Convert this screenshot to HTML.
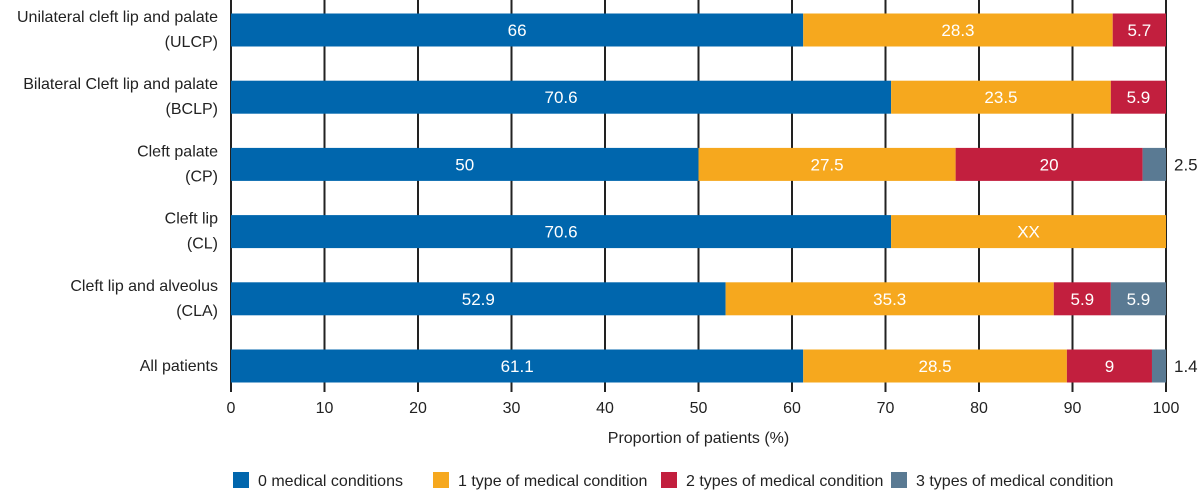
<!DOCTYPE html>
<html><head><meta charset="utf-8"><style>
body{margin:0;background:#fff;}
svg text{font-family:"Liberation Sans Narrow","Liberation Sans",sans-serif;}
</style></head><body>
<svg id="chart" width="1200" height="491" xmlns="http://www.w3.org/2000/svg"></svg>
<script>
const categories = [["Unilateral cleft lip and palate","(ULCP)"],["Bilateral Cleft lip and palate","(BCLP)"],["Cleft palate","(CP)"],["Cleft lip","(CL)"],["Cleft lip and alveolus","(CLA)"],["All patients"]];
const series0 = [61.2, 70.6, 50, 70.6, 52.9, 61.2];
const series1 = [33.1, 23.5, 27.5, 29.4, 35.1, 28.2];
const series2 = [5.7, 5.9, 20, 0, 6.1, 9.1];
const series3 = [0, 0, 2.5, 0, 5.9, 1.5];
const labels0 = ["66","70.6","50","70.6","52.9","61.1"];
const labels1 = ["28.3","23.5","27.5","XX","35.3","28.5"];
const labels2 = ["5.7","5.9","20","","5.9","9"];
const labels3 = ["","","2.5","","5.9","1.4"];
const xTicks = [0,10,20,30,40,50,60,70,80,90,100];
const seriesNames = ["0 medical conditions","1 type of medical condition","2 types of medical condition","3 types of medical condition"];
const colors = ["#0066ad","#f6a81e","#c21f3e","#5a7a93"];

const svg = document.getElementById('chart');
const NS = "http://www.w3.org/2000/svg";
const x0 = 231, x1 = 1166;
const xs = v => x0 + (x1 - x0) * v / 100;
const yc = i => 30 + i * 67.2;
const barH = 33;
function mk(tag, attrs, parent){const e=document.createElementNS(NS,tag);for(const k in attrs)e.setAttribute(k,attrs[k]);(parent||svg).appendChild(e);return e;}

xTicks.forEach(t=>{
  const l = mk('line',{x1:xs(t),x2:xs(t),y1:0,y2:392,stroke:'#222','stroke-width':2});
  
  
  const tx = mk('text',{x:xs(t),y:413,'text-anchor':'middle','font-size':16,fill:'#222'});
  tx.textContent = t;
  
  
});
const xt = mk('text',{x:xs(50),y:443,'text-anchor':'middle','font-size':16,fill:'#222'});
xt.textContent = "Proportion of patients (%)";



const allSeries = [series0,series1,series2,series3];
const allLabels = [labels0,labels1,labels2,labels3];
categories.forEach((cat,i)=>{
  const cy = yc(i);
  const lab = mk('text',{x:218,'text-anchor':'end','font-size':16,fill:'#222'});
  
  
  if(cat.length===2){
    const a=mk('tspan',{x:218,y:cy-8},lab);a.textContent=cat[0];
    const b=mk('tspan',{x:218,y:cy+17},lab);b.textContent=cat[1];
  } else { lab.setAttribute('y',cy+5); lab.textContent=cat[0]; }
  let acc=0;
  allSeries.forEach((s,j)=>{
    const v=s[i];
    if(v>0){
      const r=mk('rect',{x:xs(acc),y:cy-barH/2,width:xs(acc+v)-xs(acc),height:barH,fill:colors[j]});
      
      
      const txt=allLabels[j][i];
      if(txt){
        const small = v<4;
        const t=mk('text',{x:small?xs(100)+8:xs(acc+v/2),y:cy+6,'text-anchor':small?'start':'middle','font-size':17,fill:small?'#222':'#fff'});
        t.textContent=txt;
        
        
      }
    }
    acc+=v;
  });
});

const legX=[233,433,661,891];
seriesNames.forEach((n,j)=>{
  const r=mk('rect',{x:legX[j],y:472,width:16,height:16,fill:colors[j]});
  
  
  const t=mk('text',{x:legX[j]+25,y:486,'font-size':16,fill:'#222'});
  t.textContent=n;
  
  
});
</script>
</body></html>
